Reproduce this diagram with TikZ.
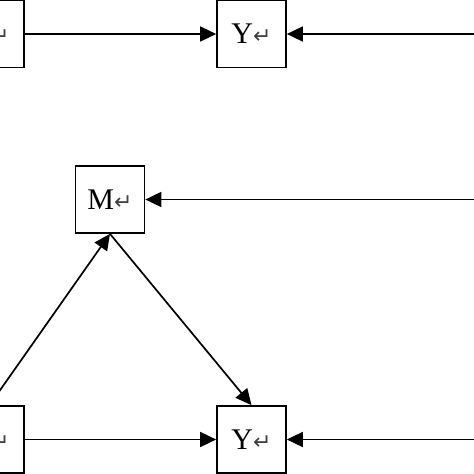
\documentclass[tikz,border=0pt]{standalone}
\usepackage{fontspec}
\setmainfont{Liberation Serif}
\newfontfamily\symfont{DejaVu Sans}
\usetikzlibrary{arrows.meta}
\newcommand{\retmark}{{\symfont\fontsize{22}{22}\selectfont\color{black!75}\symbol{"21B5}}}
\tikzset{
  varbox/.style={draw=black, line width=1.7pt, minimum width=69pt, minimum height=67pt, inner sep=0pt, font=\fontsize{30}{30}\selectfont},
  conn/.style={line width=1.7pt, -{Triangle[length=16pt,width=15pt]}}
}
\begin{document}
\begin{tikzpicture}[x=1pt,y=-1pt]
\clip (0,0) rectangle (474,474);
\fill[white] (0,0) rectangle (474,474);
% top row
\node[varbox] (x1) at (-10.5,34) {X\retmark};
\node[varbox] (y1) at (251.5,34) {Y\retmark};
\coordinate (r1) at (490,34);
% middle
\node[varbox] (m) at (110,199.5) {M\retmark};
\coordinate (r2) at (490,199.5);
% bottom row
\node[varbox] (x2) at (-10.5,439.5) {X\retmark};
\node[varbox] (y2) at (251.5,439.5) {Y\retmark};
\coordinate (r3) at (490,439.5);
% connectors
\draw[conn] (x1) -- (y1);
\draw[conn] (r1) -- (y1);
\draw[conn] (r2) -- (m);
\draw[conn] (x2.north) -- (m.south);
\draw[conn] (m.south) -- (y2.north);
\draw[conn] (x2) -- (y2);
\draw[conn] (r3) -- (y2);
\end{tikzpicture}
\end{document}
